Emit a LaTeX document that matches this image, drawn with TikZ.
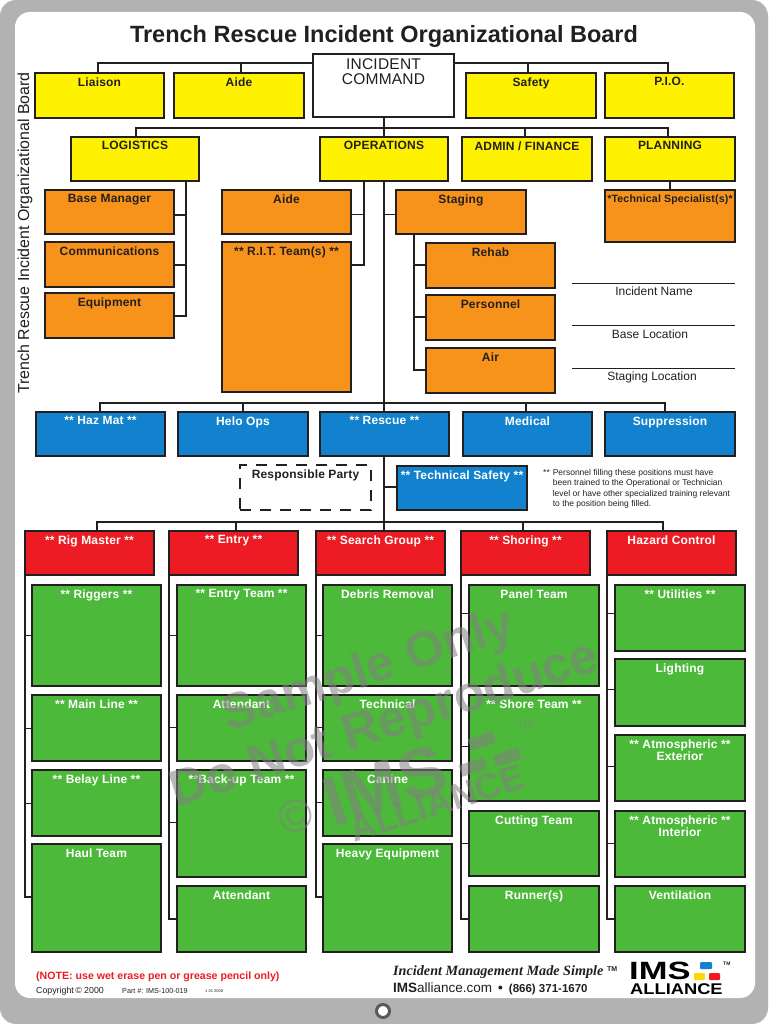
\documentclass[tikz,border=0pt]{standalone}
\usepackage{fontspec}
\setmainfont{Liberation Sans}
\newfontfamily\labfont[LetterSpace=1.5]{Liberation Sans}
\newfontfamily\cursfont{Liberation Serif}
\definecolor{bdline}{HTML}{231F20}
\definecolor{cyel}{HTML}{FFF200}
\definecolor{cora}{HTML}{F7931A}
\definecolor{cblu}{HTML}{1282CE}
\definecolor{cred}{HTML}{ED1C24}
\definecolor{cgrn}{HTML}{4DB93A}
\definecolor{cframe}{HTML}{B2B2B2}
\definecolor{wm}{HTML}{808080}
\tikzset{
  box/.style={draw=bdline,line width=1.5pt,inner sep=0pt,outer sep=0pt,anchor=north west},
  ylw/.style={box,fill=cyel,text=bdline},
  org/.style={box,fill=cora,text=bdline},
  blu/.style={box,fill=cblu,text=white},
  rdd/.style={box,fill=cred,text=white},
  grn/.style={box,fill=cgrn,text=white},
  conn/.style={draw=bdline,line width=1.5pt},
  thinconn/.style={draw=bdline,line width=1pt},
  wmark/.style={text=wm,text opacity=.55,inner sep=0pt},
  rulelabel/.style={font=\fontsize{12}{14}\selectfont,text=bdline,inner sep=0pt},
}
% name, x0,y0,x1,y1, style, text
\newcommand{\bx}[7]{%
  \pgfmathsetmacro{\bxw}{#4-#2}\pgfmathsetmacro{\bxh}{#5-#3}%
  \node[#6,minimum width=\bxw pt,minimum height=\bxh pt] (#1) at (#2,#3)
   {\parbox[c][\bxh pt][t]{\bxw pt}{\centering\fontsize{12}{12}\selectfont\labfont\bfseries\vspace*{4.5pt}#7}};}
\begin{document}
\begin{tikzpicture}[x=1pt,y=-1pt]
\useasboundingbox (0,0) rectangle (768,1024);
\fill[white] (0,0) rectangle (768,1024);
\fill[cframe,rounded corners=16pt] (0,0) rectangle (768,1024);
\fill[white,rounded corners=15pt] (15,12) rectangle (755,998);
\node[inner sep=0pt,font=\fontsize{23.5}{28}\selectfont,text=bdline] (title) at (384,36) {\textbf{Trench Rescue Incident Organizational Board}};
\node[inner sep=0pt,rotate=90,font=\fontsize{15.9}{18}\selectfont,text=bdline] (side) at (25,233) {Trench Rescue Incident Organizational Board};

\bx{ic}{313}{54}{454}{117}{box,fill=white,text=bdline}{\mdseries\fontsize{15.5}{15}\selectfont INCIDENT\\COMMAND}
\bx{liaison}{35}{73}{164}{118}{ylw}{Liaison}
\bx{aidea}{174}{73}{304}{118}{ylw}{Aide}
\bx{safety}{466}{73}{596}{118}{ylw}{Safety}
\bx{pio}{605}{73}{734}{118}{ylw}{P.I.O.}
\bx{logi}{71}{137}{199}{181}{ylw}{LOGISTICS}
\bx{ops}{320}{137}{448}{181}{ylw}{OPERATIONS}
\bx{admin}{462}{137}{592}{181}{ylw}{ADMIN / FINANCE}
\bx{plan}{605}{137}{735}{181}{ylw}{PLANNING}
\bx{base}{45}{190}{174}{234}{org}{Base Manager}
\bx{comm}{45}{242}{174}{287}{org}{Communications}
\bx{equip}{45}{293}{174}{338}{org}{Equipment}
\bx{aideb}{222}{190}{351}{234}{org}{Aide}
\bx{rit}{222}{242}{351}{392}{org}{** R.I.T. Team(s) **}
\bx{stag}{396}{190}{526}{234}{org}{Staging}
\bx{rehab}{426}{243}{555}{288}{org}{Rehab}
\bx{pers}{426}{295}{555}{340}{org}{Personnel}
\bx{air}{426}{348}{555}{393}{org}{Air}
\bx{tech}{605}{190}{735}{242}{org}{\fontsize{10.6}{12}\selectfont*Technical Specialist(s)*}
\bx{haz}{36}{412}{165}{456}{blu}{** Haz Mat **}
\bx{helo}{178}{412}{308}{456}{blu}{Helo Ops}
\bx{rescue}{320}{412}{449}{456}{blu}{** Rescue **}
\bx{med}{463}{412}{592}{456}{blu}{Medical}
\bx{supp}{605}{412}{735}{456}{blu,line width=2.4pt}{Suppression}
\bx{resp}{240}{465}{371}{510}{box,dash pattern=on 11pt off 9pt,text=bdline}{Responsible Party}
\bx{tsafe}{397}{466}{527}{510}{blu}{** Technical Safety **}
\bx{rig}{25}{531}{154}{575}{rdd}{** Rig Master **}
\bx{entry}{169}{531}{298}{575}{rdd}{** Entry **}
\bx{search}{316}{531}{445}{575}{rdd}{** Search Group **}
\bx{shor}{461}{531}{590}{575}{rdd}{** Shoring **}
\bx{hazc}{607}{531}{736}{575}{rdd}{Hazard Control}
% green col 1
\bx{a1}{32}{585}{161}{686}{grn}{** Riggers **}
\bx{a2}{32}{695}{161}{761}{grn}{** Main Line **}
\bx{a3}{32}{770}{161}{836}{grn}{** Belay Line **}
\bx{a4}{32}{844}{161}{952}{grn}{Haul Team}
% col 2
\bx{b1}{177}{585}{306}{686}{grn}{** Entry Team **}
\bx{b2}{177}{695}{306}{761}{grn}{Attendant}
\bx{b3}{177}{770}{306}{877}{grn}{**Back-up Team **}
\bx{b4}{177}{886}{306}{952}{grn}{Attendant}
% col 3
\bx{c1}{323}{585}{452}{686}{grn}{Debris Removal}
\bx{c2}{323}{695}{452}{761}{grn}{Technical}
\bx{c3}{323}{770}{452}{836}{grn}{Canine}
\bx{c4}{323}{844}{452}{952}{grn}{Heavy Equipment}
% col 4
\bx{d1}{469}{585}{599}{686}{grn}{Panel Team}
\bx{d2}{469}{695}{599}{801}{grn}{** Shore Team **}
\bx{d3}{469}{811}{599}{876}{grn}{Cutting Team}
\bx{d4}{469}{886}{599}{952}{grn}{Runner(s)}
% col 5
\bx{e1}{615}{585}{745}{651}{grn}{** Utilities **}
\bx{e2}{615}{659}{745}{726}{grn}{Lighting}
\bx{e3}{615}{735}{745}{801}{grn}{** Atmospheric **\\Exterior}
\bx{e4}{615}{811}{745}{877}{grn}{** Atmospheric **\\Interior}
\bx{e5}{615}{886}{745}{952}{grn}{Ventilation}

% command connectors
\draw[conn] (ic.west |- 0,63) -| (liaison.north -| 98,0);
\draw[conn] (ic.west |- 0,63) -| (aidea.north -| 241,0);
\draw[conn] (ic.east |- 0,63) -| (safety.north -| 528,0);
\draw[conn] (ic.east |- 0,63) -| (pio.north -| 668,0);
\draw[conn] (ic.south -| ops.north) -- (ops.north);
\draw[conn] (ops.north |- 0,128) -| (logi.north -| 136,0);
\draw[conn] (ops.north |- 0,128) -| (admin.north -| 525,0);
\draw[conn] (ops.north |- 0,128) -| (plan.north -| 668,0);
% logistics
\draw[conn] (logi.south -| 186,0) |- (equip.east |- 0,316);
\draw[conn] (base.east |- 0,215) -- (186,215);
\draw[conn] (comm.east |- 0,265) -- (186,265);
% operations
\draw[conn] (ops.south) -- (rescue.north -| ops.south);
\draw[conn] (rescue.south -| ops.south) -- (search.north -| ops.south);
\draw[conn] (ops.south -| 364,0) |- (rit.east |- 0,265);
\draw[thinconn] (aideb.east |- 0,215) -- (364,215);
\draw[thinconn] (ops.south |- 0,215) -- (stag.west |- 0,215);
\draw[conn] (stag.south -| 414,0) |- (air.west |- 0,370);
\draw[conn] (414,265) -- (rehab.west |- 0,265);
\draw[conn] (414,317) -- (pers.west |- 0,317);
\draw[conn] (plan.south -| 670,0) -- (tech.north -| 670,0);
% branches
\draw[conn] (ops.south |- 0,403) -| (haz.north -| 100,0);
\draw[conn] (ops.south |- 0,403) -| (helo.north -| 243,0);
\draw[conn] (ops.south |- 0,403) -| (med.north -| 526,0);
\draw[conn] (ops.south |- 0,403) -| (supp.north -| 665,0);
\draw[conn] (ops.south |- 0,487) -- (tsafe.west |- 0,487);
\draw[conn] (ops.south |- 0,522) -| (rig.north -| 97,0);
\draw[conn] (ops.south |- 0,522) -| (entry.north -| 236,0);
\draw[conn] (ops.south |- 0,522) -| (shor.north -| 523,0);
\draw[conn] (ops.south |- 0,522) -| (hazc.north -| 663,0);
% column spines
\draw[conn] (rig.south west) |- (a4.west |- 0,897);
\draw[thinconn] (25,635) -- (a1.west |- 0,635);
\draw[thinconn] (25,728) -- (a2.west |- 0,728);
\draw[thinconn] (25,803) -- (a3.west |- 0,803);
\draw[conn] (entry.south west) |- (b4.west |- 0,919);
\draw[thinconn] (169,635) -- (b1.west |- 0,635);
\draw[thinconn] (169,727) -- (b2.west |- 0,727);
\draw[thinconn] (169,822) -- (b3.west |- 0,822);
\draw[conn] (search.south west) |- (c4.west |- 0,897);
\draw[thinconn] (316,635) -- (c1.west |- 0,635);
\draw[thinconn] (316,727) -- (c2.west |- 0,727);
\draw[thinconn] (316,802) -- (c3.west |- 0,802);
\draw[conn] (shor.south west) |- (d4.west |- 0,919);
\draw[thinconn] (461,613) -- (d1.west |- 0,613);
\draw[thinconn] (461,746) -- (d2.west |- 0,746);
\draw[thinconn] (461,843) -- (d3.west |- 0,843);
\draw[conn] (hazc.south west) |- (e5.west |- 0,919);
\draw[thinconn] (607,613) -- (e1.west |- 0,613);
\draw[thinconn] (607,689) -- (e2.west |- 0,689);
\draw[thinconn] (607,766) -- (e3.west |- 0,766);
\draw[thinconn] (607,843) -- (e4.west |- 0,843);

% form rules
\draw[bdline,line width=1pt] (572,283) -- (735,283);
\draw[bdline,line width=1pt] (572,325) -- (735,325);
\draw[bdline,line width=1pt] (572,368) -- (735,368);
\node[rulelabel] (lname) at (654,291) {Incident Name};
\node[rulelabel] (lbase) at (650,334) {Base Location};
\node[rulelabel] (lstag) at (652,377) {Staging Location};

% note
\node[anchor=north west,inner sep=0pt,text=bdline,font=\fontsize{8.5}{10.4}\selectfont] (starnote) at (543,468)
 {\begin{tabular}{@{}l@{\hspace{3pt}}l@{}}**&Personnel filling these positions must have\\ &been trained to the Operational or Technician\\ &level or have other specialized training relevant\\ &to the position being filled.\end{tabular}};

% footer
\node[anchor=west,inner sep=0pt,text=cred,font=\fontsize{10.6}{12}\selectfont\bfseries] (fnote) at (36,977) {(NOTE: use wet erase pen or grease pencil only)};
\node[anchor=west,inner sep=0pt,text=bdline,font=\fontsize{8.8}{10}\selectfont] (fcopy) at (36,991) {Copyright\,© 2000};
\node[anchor=west,inner sep=0pt,text=bdline,font=\fontsize{7.2}{8}\selectfont] (fpart) at (122,991) {Part \#: IMS-100-019};
\node[anchor=west,inner sep=0pt,text=bdline,font=\fontsize{4}{4}\selectfont] (fdate) at (205,991) {1 01 2008};
\node[anchor=west,inner sep=0pt,text=bdline,font=\fontsize{14.2}{15}\selectfont\cursfont\itshape\bfseries] (fscript) at (393,972) {Incident Management Made Simple};
\node[anchor=west,inner sep=0pt,text=bdline,font=\fontsize{7}{8}\selectfont\bfseries] (ftm) at (607,969) {TM};
\node[anchor=west,inner sep=0pt,text=bdline,font=\fontsize{13.5}{16}\selectfont] (fweb) at (393,989) {\textbf{IMS}alliance.com\, \textbf{•}\, \textbf{\fontsize{11.5}{14}\selectfont(866) 371-1670}};
\node[anchor=west,inner sep=0pt,text=black,font=\fontsize{25}{25}\selectfont\bfseries] (flogo) at (629,971) {\scalebox{1.38}[1]{IMS}};
\node[anchor=west,inner sep=0pt,text=black,font=\fontsize{15.5}{17}\selectfont\bfseries] (falli) at (630,989) {\scalebox{1.18}[1]{ALLIANCE}};
\node[anchor=west,inner sep=0pt,text=bdline,font=\fontsize{5}{6}\selectfont\bfseries] (flogotm) at (723,964) {TM};
\fill[cblu,rounded corners=1pt] (700,962) rectangle (712,969);
\fill[cyel!70!cora,rounded corners=1pt] (694,973) rectangle (705,980);
\fill[cred,rounded corners=1pt] (709,973) rectangle (720,980);
% hanging hole
\draw[draw=black!65,fill=white,line width=3pt] (383,1011) circle (6.5);

% watermark
\node[wmark,rotate=18,font=\fontsize{50}{50}\selectfont\bfseries] (wa) at (369,672) {Sample Only};
\node[wmark,rotate=18,font=\fontsize{51}{52}\selectfont\bfseries] (wb) at (385,726) {Do Not Reproduce};
\node[wmark,rotate=18,font=\fontsize{46}{50}\selectfont] (wc) at (296,816) {©};
\node[wmark,rotate=18,font=\fontsize{70}{70}\selectfont\bfseries] (wd) at (385,785) {IMS};
\node[wmark,rotate=18,font=\fontsize{36}{38}\selectfont\bfseries] (we) at (437,803) {ALLIANCE};
\node[wmark,rotate=18,font=\fontsize{11}{12}\selectfont] (wf) at (525,726) {TM};
\fill[wm,opacity=.55,rotate around={18:(482,741)}] (469,735) rectangle (495,747);
\fill[wm,opacity=.55,rotate around={18:(507,757)}] (494,751) rectangle (520,763);
\fill[wm,opacity=.55,rotate around={18:(473,767)}] (460,761) rectangle (486,773);
\end{tikzpicture}
\end{document}
